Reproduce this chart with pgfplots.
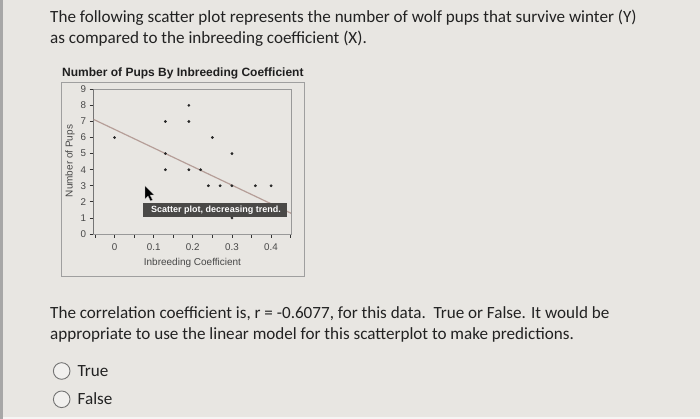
\documentclass[border=0pt]{standalone}
\usepackage{fontspec}
\setmainfont{Carlito}
\newfontfamily\chartfont{Liberation Sans}
\usepackage{pgfplots}
\pgfplotsset{compat=1.18}
\definecolor{bgcol}{HTML}{E8E6E2}
\definecolor{txtcol}{HTML}{222222}
\definecolor{chtxt}{HTML}{474747}
\definecolor{trend}{HTML}{B59E98}
\definecolor{tipcol}{HTML}{4A4947}
\begin{document}
\begin{tikzpicture}[x=1pt,y=1pt]
\path[use as bounding box] (0,0) rectangle (700,419);
\fill[bgcol] (0,0) rectangle (700,419);
\fill[gray!85!black!60] (0,0) rectangle (2.5,419);
\fill[white!60!bgcol] (2.5,0) rectangle (700,2);
% question text
\node[anchor=base west, inner sep=0, text=txtcol, font=\fontsize{17.1}{20}\selectfont] at (50,396.3) {The following scatter plot represents the number of wolf pups that survive winter (Y)};
\node[anchor=base west, inner sep=0, text=txtcol, font=\fontsize{17.1}{20}\selectfont] at (50,375.5) {as compared to the inbreeding coefficient (X).};
\node[anchor=base west, inner sep=0, text=txtcol, font=\fontsize{17.1}{20}\selectfont] at (50,100.5) {The correlation coefficient is, r = -0.6077, for this data.\ \ True or False. It would be};
\node[anchor=base west, inner sep=0, text=txtcol, font=\fontsize{17.1}{20}\selectfont] at (50,79) {appropriate to use the linear model for this scatterplot to make predictions.};
% radio buttons
\draw[gray!90!black, line width=0.9, fill=white!40!bgcol] (61.7,48) circle (8.3);
\draw[gray!90!black, line width=0.9, fill=white!40!bgcol] (61.7,19.7) circle (8.3);
\node[anchor=base west, inner sep=0, text=txtcol, font=\fontsize{17.1}{20}\selectfont] at (77.5,42.3) {True};
\node[anchor=base west, inner sep=0, text=txtcol, font=\fontsize{17.1}{20}\selectfont] at (77.5,14) {False};
% chart panel
\draw[gray!75, line width=0.8] (61,337) rectangle (304,143);
\node[anchor=base west, inner sep=0, text=black!88, font=\chartfont\bfseries\fontsize{12}{14}\selectfont] at (62,342.3) {Number of Pups By Inbreeding Coefficient};
\begin{axis}[
  at={(93.5pt,185pt)}, anchor=south west,
  scale only axis, width=197.5pt, height=144.7pt,
  xmin=-0.0537, xmax=0.451, ymin=0, ymax=9,
  axis line style={draw=gray!80, line width=0.8pt},
  xtick={0,0.1,0.2,0.3,0.4}, xticklabels={0,0.1,0.2,0.3,0.4},
  minor xtick={-0.05,0.05,0.15,0.25,0.35,0.45},
  ytick={0,1,2,3,4,5,6,7,8,9}, yticklabels={0,1,2,3,4,5,6,7,8,9},
  tick align=outside, xtick pos=bottom, ytick pos=left,
  major tick length=4pt, minor tick length=4pt,
  every tick/.style={black!80, line width=0.7pt},
  /pgf/number format/assume math mode=true,
  ticklabel style={font=\chartfont\fontsize{9.8}{10}\selectfont, text=chtxt},
  xticklabel style={yshift=-2pt},
  xlabel={Inbreeding Coefficient},
  ylabel={Number of Pups},
  label style={font=\chartfont\fontsize{10}{12}\selectfont, text=chtxt},
  xlabel style={at={(axis description cs:0.501,-0.2)}, anchor=center},
  ylabel style={at={(axis description cs:-0.119,0.504)}, anchor=center},
  clip=true,
]
\draw[black!80, line width=0.8pt] (rel axis cs:0,1) -- (rel axis cs:0,0) -- (rel axis cs:1,0);
\addplot[trend, line width=1.2pt, no marks] coordinates {(-0.0537,7.13) (0.451,1.29)};
\addplot[only marks, mark=*, mark size=1.2pt, draw=black!85, fill=black!85] coordinates {
(0,6) (0.13,7) (0.13,5) (0.13,4) (0.19,8) (0.19,7) (0.19,4) (0.22,4)
(0.25,6) (0.30,5) (0.24,3) (0.27,3) (0.30,3) (0.36,3) (0.40,3) (0.30,1)
};
\end{axis}
% tooltip
\fill[tipcol] (143,216) rectangle (287,202);
\node[text=white, font=\chartfont\bfseries\fontsize{9}{10}\selectfont, inner sep=0] at (216,209) {Scatter plot, decreasing trend.};
% cursor
\filldraw[black, draw=white!70!black, line width=0.3] (145,233) -- (145,220) -- (148,223) -- (150.5,218) -- (152.5,219) -- (150,224) -- (154,224) -- cycle;
\end{tikzpicture}
\end{document}
